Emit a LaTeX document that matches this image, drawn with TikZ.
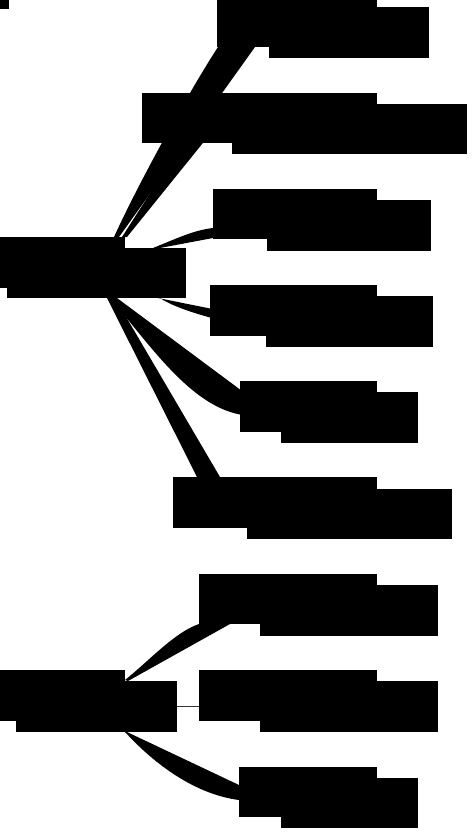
\documentclass[tikz,border=0pt]{standalone}
\usepackage{tikz}
\usetikzlibrary{calc,fit}

\tikzset{
  blk/.style={fill=black, inner sep=0pt, outer sep=0pt},
  band/.style={fill=black},
  thinlink/.style={draw=black!80, line width=0.6pt}
}

\begin{document}
\begin{tikzpicture}[x=1pt, y=-1pt]
  \useasboundingbox (0,0) rectangle (474,835);
  \fill (0,0) rectangle (9,9);

  % upper cluster
  \node[blk, fit={(0,237) (125,288)}] (t0a) {};
  \node[blk, fit={(7,248) (186,298)}] (t0b) {};
  \node[blk, fit={(217,0) (377,47)}] (t1a) {};
  \node[blk, fit={(269,7) (429,58)}] (t1b) {};
  \node[blk, fit={(142,93) (377,143)}] (t2a) {};
  \node[blk, fit={(232,104) (467,154)}] (t2b) {};
  \node[blk, fit={(213,189) (377,239)}] (t3a) {};
  \node[blk, fit={(267,200) (431,251)}] (t3b) {};
  \node[blk, fit={(210,285) (377,336)}] (t4a) {};
  \node[blk, fit={(266,296) (433,347)}] (t4b) {};
  \node[blk, fit={(240,381) (377,432)}] (t5a) {};
  \node[blk, fit={(281,392) (418,443)}] (t5b) {};
  \node[blk, fit={(173,477) (377,528)}] (t6a) {};
  \node[blk, fit={(247,489) (452,539)}] (t6b) {};

  \path[band]
    ($(t0a.north east)+(-11,0)$) .. controls (140,180) and (190,90) .. ($(t1a.south west)+(1,0)$)
      -- ($(t1a.south west)+(38,0)$) -- ($(t0a.north east)+(-6,0)$) -- cycle;
  \path[band]
    ($(t0a.north east)+(-3,0)$) -- ($(t2a.south west)+(50,-15)$)
      -- ($(t2a.south west)+(73,-15)$) -- ($(t0a.north east)+(2,0)$) -- cycle;
  \path[band]
    ($(t0b.north west)+(146,0)$) .. controls (180,237) and (195,230) .. ($(t3a.west)+(0,14)$)
      -- ($(t3a.south west)+(0,-1)$) -- ($(t0b.north west)+(153,0)$) -- cycle;
  \path[band]
    ($(t0b.south west)+(151,0)$) -- ($(t4a.west)+(0,-2)$)
      -- ($(t4a.west)+(0,7)$) .. controls (190,312) and (170,305) .. ($(t0b.south west)+(153,0)$) -- cycle;
  \path[band]
    ($(t0b.south west)+(110,0)$) -- ($(t5a.west)+(0,-17)$)
      -- ($(t5a.west)+(0,8)$) .. controls (190,405) and (150,345) .. ($(t0b.south west)+(103,0)$) -- cycle;
  \path[band]
    ($(t0b.south west)+(100,0)$) -- ($(t6a.north west)+(24,0)$)
      -- ($(t6a.north west)+(47,0)$) -- ($(t0b.south west)+(108,0)$) -- cycle;

  % lower cluster
  \node[blk, fit={(0,670) (125,721)}] (s0a) {};
  \node[blk, fit={(16,681) (177,732)}] (s0b) {};
  \node[blk, fit={(199,574) (377,624)}] (s1a) {};
  \node[blk, fit={(260,585) (438,636)}] (s1b) {};
  \node[blk, fit={(199,670) (377,721)}] (s2a) {};
  \node[blk, fit={(260,681) (438,732)}] (s2b) {};
  \node[blk, fit={(239,767) (377,817)}] (s3a) {};
  \node[blk, fit={(281,778) (418,828)}] (s3b) {};

  \path[band]
    ($(s0a.north east)+(0,10)$) .. controls (150,660) and (175,632) .. ($(s1a.south west)+(0,0)$)
      -- ($(s1a.south west)+(31,0)$) -- ($(s0a.north east)+(3,11)$) -- cycle;
  \draw[thinlink] (s0b.east) -- (s0b.east -| s2a.west);
  \path[band]
    ($(s0b.south west)+(111,0)$) -- ($(s3a.west)+(0,-7)$)
      -- ($(s3a.west)+(0,8)$) .. controls (200,795) and (160,770) .. ($(s0b.south west)+(109,0)$) -- cycle;
\end{tikzpicture}
\end{document}
